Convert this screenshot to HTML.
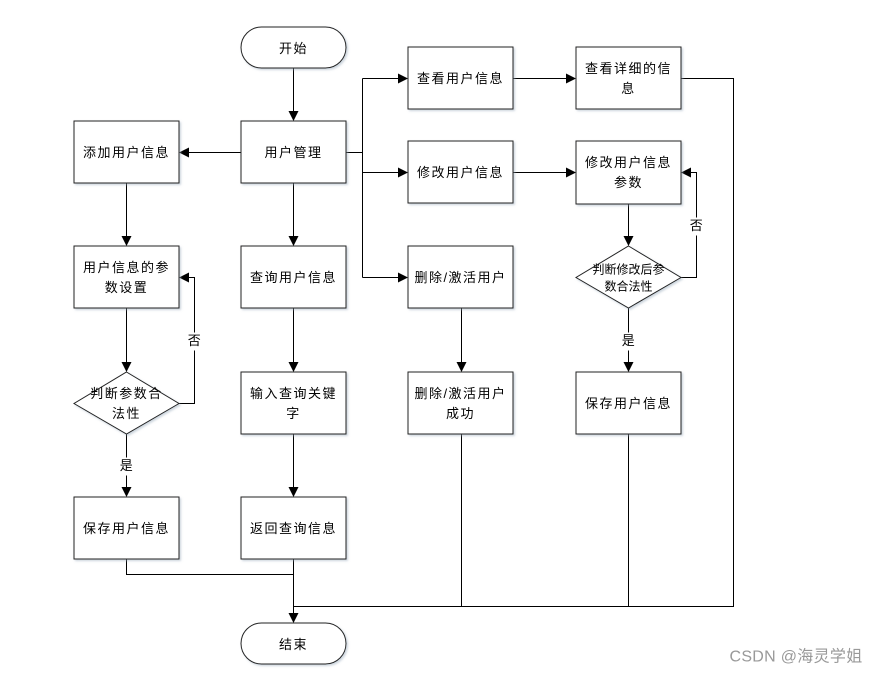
<!DOCTYPE html>
<html><head><meta charset="utf-8"><style>
html,body{margin:0;padding:0;background:#fff;}
svg{display:block;}
text{font-family:"Liberation Sans","Noto Sans CJK SC",sans-serif;font-size:13px;fill:#000;letter-spacing:1.5px;text-anchor:middle;dominant-baseline:middle;}
.b{fill:#fff;stroke:#222;stroke-width:1;filter:url(#sh);}
.l{stroke:#000;stroke-width:1;fill:none;}
</style></head><body>
<svg width="880" height="674" viewBox="0 0 880 674" xmlns="http://www.w3.org/2000/svg">
<defs>
<filter id="sh" x="-10%" y="-10%" width="130%" height="130%"><feDropShadow dx="1.5" dy="1.5" stdDeviation="1" flood-color="#9ab" flood-opacity="0.5"/></filter>
<marker id="a" markerWidth="10" markerHeight="10" refX="9" refY="5" orient="auto" markerUnits="userSpaceOnUse"><path d="M0,0 L10,5 L0,10 z" fill="#000"/></marker>
</defs>
<g class="l">
<path d="M293.5,68 V120" marker-end="url(#a)"/>
<path d="M241,152.5 H180" marker-end="url(#a)"/>
<path d="M126.5,183 V245" marker-end="url(#a)"/>
<path d="M126.5,308 V371" marker-end="url(#a)"/>
<path d="M126.5,434 V496" marker-end="url(#a)"/>
<path d="M179,403.5 H194.5 V277.5 H180" marker-end="url(#a)"/>
<path d="M293.5,183 V245" marker-end="url(#a)"/>
<path d="M293.5,308 V371" marker-end="url(#a)"/>
<path d="M293.5,434 V496" marker-end="url(#a)"/>
<path d="M293.5,559 V622" marker-end="url(#a)"/>
<path d="M126.5,559 V574.5 H293.5"/>
<path d="M346,152.5 H362.5"/>
<path d="M362.5,78.5 V277.5"/>
<path d="M362.5,78.5 H407" marker-end="url(#a)"/>
<path d="M362.5,172.5 H407" marker-end="url(#a)"/>
<path d="M362.5,277.5 H407" marker-end="url(#a)"/>
<path d="M513,78.5 H575" marker-end="url(#a)"/>
<path d="M513,172.5 H575" marker-end="url(#a)"/>
<path d="M681,78.5 H733.5 V606.5 H293.5"/>
<path d="M461.5,308 V371" marker-end="url(#a)"/>
<path d="M461.5,434 V606.5"/>
<path d="M628.5,204 V245" marker-end="url(#a)"/>
<path d="M628.5,308 V371" marker-end="url(#a)"/>
<path d="M628.5,434 V606.5"/>
<path d="M680,277.5 H696.5 V172.5 H682" marker-end="url(#a)"/>
</g>
<g transform="translate(0,1.5)">
<rect x="188" y="331" width="14" height="18" fill="#fff"/>
<text x="195" y="340">否</text>
<rect x="690" y="216" width="14" height="18" fill="#fff"/>
<text x="697" y="225">否</text>
<rect x="119" y="456" width="14" height="18" fill="#fff"/>
<text x="127" y="465">是</text>
<rect x="621" y="331" width="14" height="18" fill="#fff"/>
<text x="629" y="340">是</text>
</g>
<rect class="b" x="241" y="27" width="105" height="41" rx="20.5"/>
<rect class="b" x="241" y="623" width="105" height="41" rx="20.5"/>
<rect class="b" x="241" y="121" width="105" height="62"/>
<rect class="b" x="74" y="121" width="105" height="62"/>
<rect class="b" x="74" y="246" width="105" height="62"/>
<polygon class="b" points="126.5,372 179,403.5 126.5,434 74,403.5"/>
<rect class="b" x="74" y="497" width="105" height="62"/>
<rect class="b" x="241" y="246" width="105" height="62"/>
<rect class="b" x="241" y="372" width="105" height="62"/>
<rect class="b" x="241" y="497" width="105" height="62"/>
<rect class="b" x="408" y="47" width="105" height="62"/>
<rect class="b" x="408" y="141" width="105" height="62"/>
<rect class="b" x="408" y="246" width="105" height="62"/>
<rect class="b" x="408" y="372" width="105" height="62"/>
<rect class="b" x="576" y="47" width="105" height="62"/>
<rect class="b" x="576" y="141" width="105" height="63"/>
<polygon class="b" points="628.5,246 681,277.5 628.5,308 576,277.5"/>
<rect class="b" x="576" y="372" width="105" height="62"/>
<g transform="translate(0,1.5)">
<text x="293.5" y="48">开始</text>
<text x="293.5" y="644">结束</text>
<text x="293.5" y="152">用户管理</text>
<text x="126.5" y="152">添加用户信息</text>
<text x="126.5" y="267">用户信息的参</text><text x="126.5" y="287">数设置</text>
<text x="126.5" y="393">判断参数合</text><text x="126.5" y="413">法性</text>
<text x="126.5" y="528">保存用户信息</text>
<text x="293.5" y="277">查询用户信息</text>
<text x="293.5" y="393">输入查询关键</text><text x="293.5" y="413">字</text>
<text x="293.5" y="528">返回查询信息</text>
<text x="460.5" y="78">查看用户信息</text>
<text x="460.5" y="172">修改用户信息</text>
<text x="460.5" y="277">删除/激活用户</text>
<text x="460.5" y="393">删除/激活用户</text><text x="460.5" y="413">成功</text>
<text x="628.5" y="68">查看详细的信</text><text x="628.5" y="88">息</text>
<text x="628.5" y="162">修改用户信息</text><text x="628.5" y="182">参数</text>
<text x="628.5" y="269" style="font-size:12px;letter-spacing:0">判断修改后参</text><text x="628.5" y="286" style="font-size:12px;letter-spacing:0">数合法性</text>
<text x="628.5" y="403">保存用户信息</text>
<text x="796" y="656" style="font-size:16px;fill:#999;letter-spacing:0.3px">CSDN @海灵学姐</text>
</g>
</svg>
</body></html>
